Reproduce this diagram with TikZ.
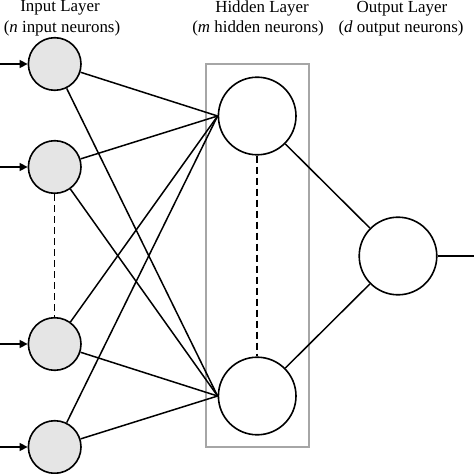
\documentclass[tikz,border=0pt]{standalone}
\usepackage{fontspec}
\setmainfont{Liberation Serif}
\usetikzlibrary{arrows.meta}
\begin{document}
\begin{tikzpicture}[x=1bp,y=-1bp,
  inneuron/.style={circle,draw,line width=1.6bp,fill=black!10,minimum size=52.6bp,inner sep=0pt},
  hidneuron/.style={circle,draw,line width=1.6bp,fill=white,minimum size=77.6bp,inner sep=0pt},
  conn/.style={line width=1.5bp},
  dots/.style={line width=1.5bp,dash pattern=on 7bp off 4bp},
  inarrow/.style={line width=1.5bp,-{Triangle[length=8bp,width=8bp]}},
  lbl/.style={font=\fontsize{16.9bp}{20bp}\selectfont,anchor=base,inner sep=0pt}]
\useasboundingbox (0,0) rectangle (474,474);
% hidden layer box
\node[draw=black!35,line width=1.3bp,minimum width=103bp,minimum height=383bp,inner sep=0pt] (box) at (257.5,255.5) {};
% neurons
\node[inneuron] (i1) at (54.7,64) {};
\node[inneuron] (i2) at (54.7,167) {};
\node[inneuron] (i3) at (54.7,344) {};
\node[inneuron] (i4) at (54.7,447) {};
\node[hidneuron] (h1) at (257.2,116) {};
\node[hidneuron] (h2) at (257.2,396) {};
\node[hidneuron] (o) at (398,256) {};
% input arrows
\coordinate (a1) at (0,64);
\coordinate (a2) at (0,167);
\coordinate (a3) at (0,344);
\coordinate (a4) at (0,447);
\coordinate (oe) at (474,256);
\foreach \k in {1,2,3,4}{\draw[inarrow] (a\k) -- (i\k.west);}
% connections
\foreach \k in {1,2,3,4}{
  \draw[conn] (i\k) -- (h1.west);
  \draw[conn] (i\k) -- (h2.west);
}
\draw[conn] (h1) -- (o);
\draw[conn] (h2) -- (o);
\draw[conn] (o.east) -- (oe);
% dashed
\draw[dots] (i2.south) -- (i3.north);
\draw[dots] (h1.south) -- (h2.north);
% labels
\node[lbl] (t1) at (60,12) {Input Layer};
\node[lbl] (t2) at (62,33) {(\textit{n} input neurons)};
\node[lbl] (t3) at (262,12.5) {Hidden Layer};
\node[lbl] (t4) at (258,33) {(\textit{m} hidden neurons)};
\node[lbl] (t5) at (402,12.5) {Output Layer};
\node[lbl] (t6) at (401,33) {(\textit{d} output neurons)};
\end{tikzpicture}
\end{document}
